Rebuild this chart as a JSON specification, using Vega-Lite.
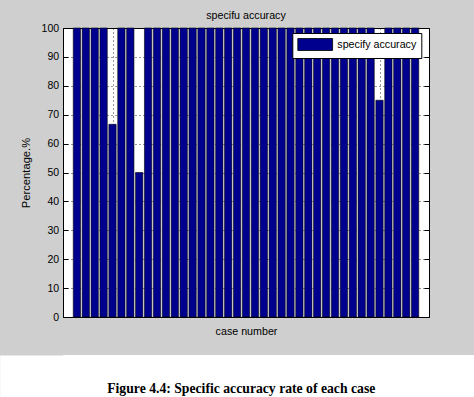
{
  "$schema": "https://vega.github.io/schema/vega-lite/v6.json",
  "background": "#cfcfcf",
  "padding": {"left": 0, "top": 9, "right": 0, "bottom": 0},
  "spacing": 18,
  "columns": 1,
  "align": "none",
  "bounds": "full",
  "config": {
    "font": "Liberation Sans",
    "view": {"stroke": "black", "strokeWidth": 1, "fill": "white"},
    "axis": {"labelColor": "black", "titleColor": "black", "labelFont": "Liberation Sans", "titleFont": "Liberation Sans", "titleFontWeight": "normal"}
  },
  "concat": [
    {
      "width": 366,
      "height": 289,
      "title": {"text": "specifu accuracy", "fontSize": 10.7, "fontWeight": "normal", "color": "black", "font": "Liberation Sans", "baseline": "alphabetic", "offset": -6.4, "frame": "group", "anchor": "middle"},
      "data": {"values": [
        {"case": 1, "accuracy": 100, "series": "specify accuracy"},
        {"case": 2, "accuracy": 100, "series": "specify accuracy"},
        {"case": 3, "accuracy": 100, "series": "specify accuracy"},
        {"case": 4, "accuracy": 100, "series": "specify accuracy"},
        {"case": 5, "accuracy": 66.67, "series": "specify accuracy"},
        {"case": 6, "accuracy": 100, "series": "specify accuracy"},
        {"case": 7, "accuracy": 100, "series": "specify accuracy"},
        {"case": 8, "accuracy": 50, "series": "specify accuracy"},
        {"case": 9, "accuracy": 100, "series": "specify accuracy"},
        {"case": 10, "accuracy": 100, "series": "specify accuracy"},
        {"case": 11, "accuracy": 100, "series": "specify accuracy"},
        {"case": 12, "accuracy": 100, "series": "specify accuracy"},
        {"case": 13, "accuracy": 100, "series": "specify accuracy"},
        {"case": 14, "accuracy": 100, "series": "specify accuracy"},
        {"case": 15, "accuracy": 100, "series": "specify accuracy"},
        {"case": 16, "accuracy": 100, "series": "specify accuracy"},
        {"case": 17, "accuracy": 100, "series": "specify accuracy"},
        {"case": 18, "accuracy": 100, "series": "specify accuracy"},
        {"case": 19, "accuracy": 100, "series": "specify accuracy"},
        {"case": 20, "accuracy": 100, "series": "specify accuracy"},
        {"case": 21, "accuracy": 100, "series": "specify accuracy"},
        {"case": 22, "accuracy": 100, "series": "specify accuracy"},
        {"case": 23, "accuracy": 100, "series": "specify accuracy"},
        {"case": 24, "accuracy": 100, "series": "specify accuracy"},
        {"case": 25, "accuracy": 100, "series": "specify accuracy"},
        {"case": 26, "accuracy": 100, "series": "specify accuracy"},
        {"case": 27, "accuracy": 100, "series": "specify accuracy"},
        {"case": 28, "accuracy": 100, "series": "specify accuracy"},
        {"case": 29, "accuracy": 100, "series": "specify accuracy"},
        {"case": 30, "accuracy": 100, "series": "specify accuracy"},
        {"case": 31, "accuracy": 100, "series": "specify accuracy"},
        {"case": 32, "accuracy": 100, "series": "specify accuracy"},
        {"case": 33, "accuracy": 100, "series": "specify accuracy"},
        {"case": 34, "accuracy": 100, "series": "specify accuracy"},
        {"case": 35, "accuracy": 75, "series": "specify accuracy"},
        {"case": 36, "accuracy": 100, "series": "specify accuracy"},
        {"case": 37, "accuracy": 100, "series": "specify accuracy"},
        {"case": 38, "accuracy": 100, "series": "specify accuracy"},
        {"case": 39, "accuracy": 100, "series": "specify accuracy"}
      ]},
      "layer": [
        {
          "mark": {"type": "bar", "size": 7.3, "stroke": "black", "strokeWidth": 0.6},
          "encoding": {
            "x": {"field": "case", "type": "quantitative", "title": "case number",
                  "scale": {"domain": [0, 40], "nice": false, "zero": false},
                  "axis": {"title": "case number", "titleFontSize": 10.7, "titlePadding": 9, "labels": false, "ticks": false, "domain": false,
                           "grid": true, "values": [5, 10, 15, 20, 25, 30, 35], "gridColor": "black", "gridDash": [1, 3], "gridWidth": 1, "gridOpacity": 0.8}},
            "y": {"field": "accuracy", "type": "quantitative",
                  "scale": {"domain": [0, 100], "nice": false},
                  "axis": {"orient": "left", "title": "Percentage.%", "titleFontSize": 11.2,
                           "titleX": -32, "titleY": 144.5, "titleAngle": 270, "titleAlign": "center", "titleBaseline": "bottom",
                           "values": [0, 10, 20, 30, 40, 50, 60, 70, 80, 90, 100], "tickSize": 61.7, "tickOpacity": 0,
                           "labelPadding": -57.3, "labelFontSize": 10.5, "domain": false,
                           "grid": true, "gridColor": "black", "gridDash": [1, 3], "gridWidth": 1, "gridOpacity": 0.8}},
            "color": {"field": "series", "type": "nominal", "scale": {"range": ["#00008f"]},
                      "legend": {"title": null, "orient": "none", "legendX": 229.3, "legendY": 5,
                                 "fillColor": "white", "strokeColor": "black", "padding": 5, "cornerRadius": 0,
                                 "symbolType": "M-1,-1H4.8V1H-1Z", "symbolSize": 144, "symbolStrokeColor": "black", "symbolStrokeWidth": 0.8, "symbolOpacity": 1,
                                 "labelFontSize": 10.7, "labelColor": "black", "labelOffset": 27, "labelFont": "Liberation Sans"}}
          }
        },
        {
          "mark": {"type": "bar", "size": 7.3, "opacity": 0},
          "encoding": {
            "x": {"field": "case", "type": "quantitative", "title": "case number",
                  "axis": {"title": "case number", "titleFontSize": 10.7, "titlePadding": 9, "labels": false, "ticks": false, "domain": false,
                           "grid": true, "values": [5, 10, 15, 20, 25, 30, 35], "gridColor": "black", "gridDash": [1, 3], "gridWidth": 1, "gridOpacity": 0.8}},
            "y": {"field": "accuracy", "type": "quantitative",
                  "axis": {"orient": "left", "title": null, "labels": false, "grid": false, "domain": false,
                           "tickSize": -5, "tickColor": "black", "tickWidth": 1,
                           "values": [0, 10, 20, 30, 40, 50, 60, 70, 80, 90, 100]}}
          }
        },
        {
          "mark": {"type": "bar", "size": 7.3, "opacity": 0},
          "encoding": {
            "x": {"field": "case", "type": "quantitative", "title": "case number",
                  "axis": {"title": "case number", "titleFontSize": 10.7, "titlePadding": 9, "labels": false, "ticks": false, "domain": false,
                           "grid": true, "values": [5, 10, 15, 20, 25, 30, 35], "gridColor": "black", "gridDash": [1, 3], "gridWidth": 1, "gridOpacity": 0.8}},
            "y": {"field": "accuracy", "type": "quantitative",
                  "axis": {"orient": "right", "title": null, "labels": false, "grid": false, "domain": false,
                           "tickSize": -5, "tickColor": "black", "tickWidth": 1,
                           "values": [0, 10, 20, 30, 40, 50, 60, 70, 80, 90, 100]}}
          }
        }
      ],
      "resolve": {"axis": {"y": "independent"}}
    },
    {
      "width": 411.3,
      "height": 42,
      "view": {"fill": "white", "stroke": null},
      "data": {"values": [{"caption": "Figure 4.4: Specific accuracy rate of each case"}]},
      "mark": {"type": "text", "font": "Liberation Serif", "fontWeight": "bold", "fontSize": 13.7, "color": "black", "dy": 13, "dx": -27.4},
      "encoding": {
        "text": {"field": "caption"},
        "y": {"datum": 0.5, "type": "quantitative", "scale": {"domain": [0, 1]},
              "axis": {"orient": "left", "offset": 31.6, "domainWidth": 63.5, "domainColor": "white", "domainCap": "butt", "domainOpacity": 1,
                       "ticks": false, "labels": false, "grid": false, "title": null}}
      }
    }
  ]
}
